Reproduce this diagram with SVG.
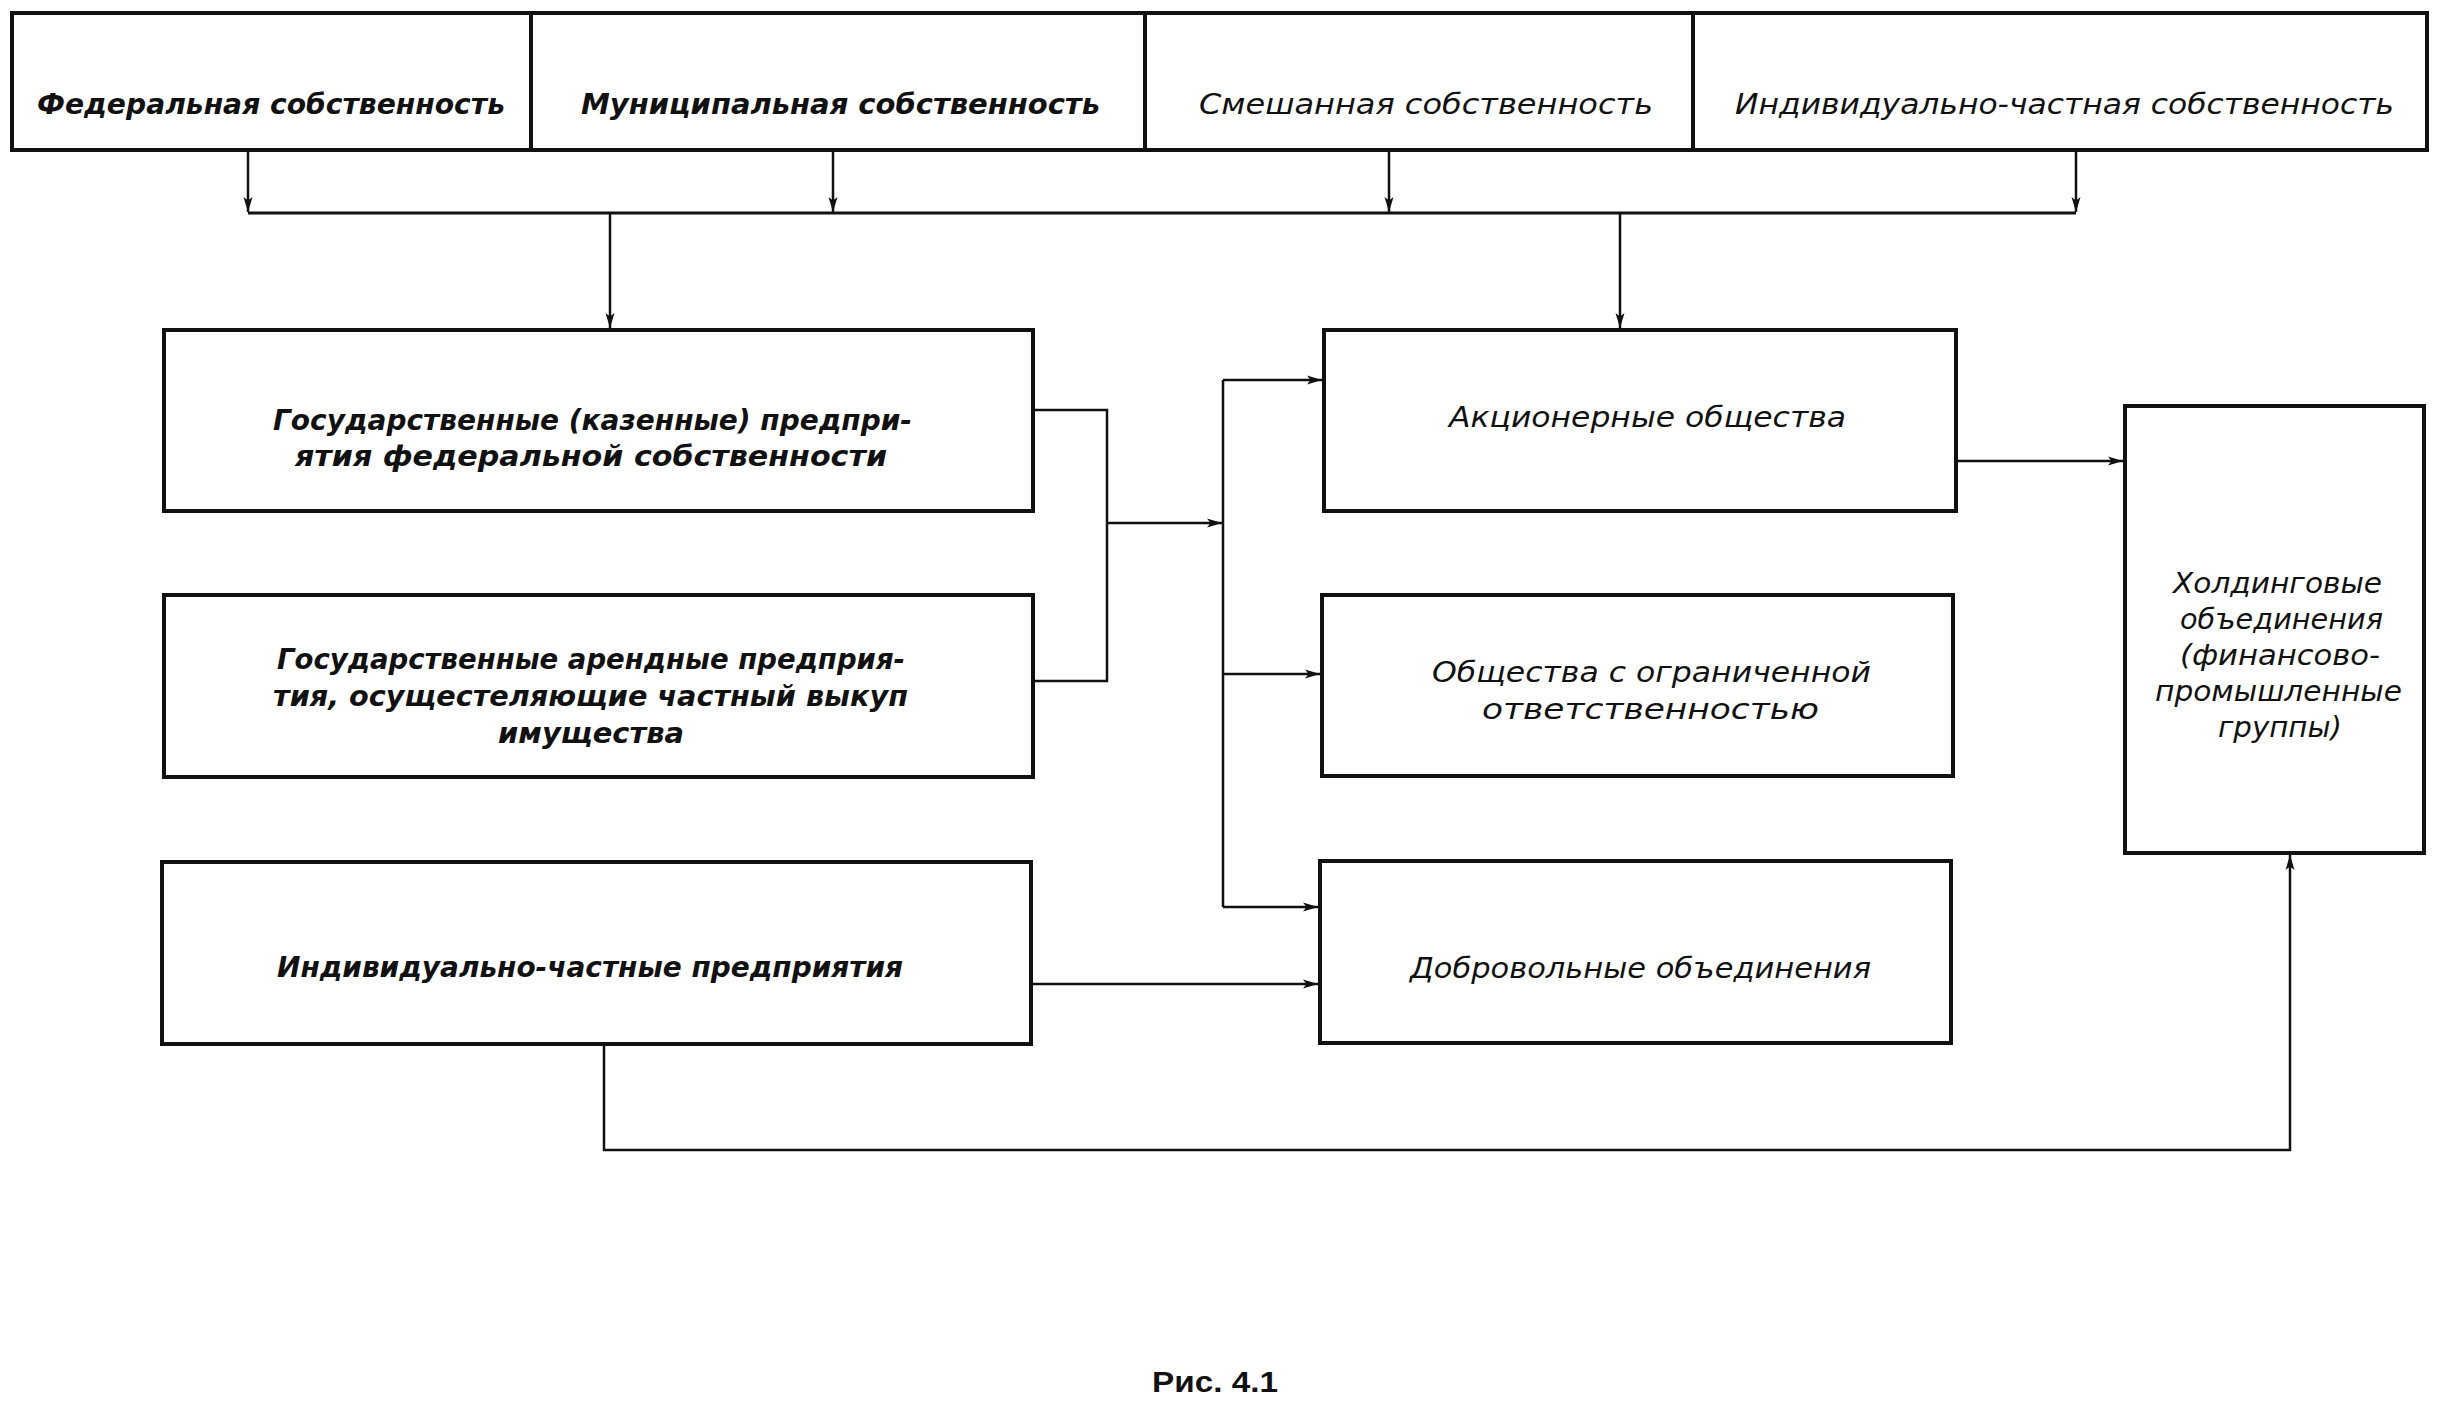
<svg xmlns="http://www.w3.org/2000/svg" width="2443" height="1419" viewBox="0 0 2443 1419">
<style>
.box{fill:#fff;stroke:#111;stroke-width:4}
.c{fill:none;stroke:#111;stroke-width:2.5}
.t{font-family:"DejaVu Sans","Liberation Sans",sans-serif;font-style:oblique;font-size:29px;fill:#111}
.b{font-weight:bold}
.cap{font-family:"Liberation Sans",Arial,sans-serif;font-weight:bold;font-size:29px;fill:#111}
</style>
<defs>
<marker id="ar" markerUnits="userSpaceOnUse" markerWidth="16" markerHeight="10" refX="15" refY="5" orient="auto">
<path d="M0,0.5 L15,5 L0,9.5 L3.5,5 z" fill="#111"/>
</marker>
</defs>
<rect width="2443" height="1419" fill="#fff"/>
<g id="connectors">
<path class="c" d="M248 150 V212" marker-end="url(#ar)"/>
<path class="c" d="M833 150 V212" marker-end="url(#ar)"/>
<path class="c" d="M1389 150 V212" marker-end="url(#ar)"/>
<path class="c" d="M2076 150 V212" marker-end="url(#ar)"/>
<path class="c" d="M248 213 H2076" style="stroke-width:3"/>
<path class="c" d="M610 213 V328" marker-end="url(#ar)"/>
<path class="c" d="M1620 213 V328" marker-end="url(#ar)"/>
<path class="c" d="M1033 410 H1107 V681 H1033"/>
<path class="c" d="M1107 523 H1222" marker-end="url(#ar)"/>
<path class="c" d="M1223 380 V907"/>
<path class="c" d="M1223 380 H1322" marker-end="url(#ar)"/>
<path class="c" d="M1223 674 H1320" marker-end="url(#ar)"/>
<path class="c" d="M1223 907 H1318" marker-end="url(#ar)"/>
<path class="c" d="M1031 984 H1318" marker-end="url(#ar)"/>
<path class="c" d="M1956 461 H2123" marker-end="url(#ar)"/>
<path class="c" d="M604 1044 V1150 H2290 V855" marker-end="url(#ar)"/>
</g>
<g id="federal">
<rect class="box" x="12" y="13" width="519" height="137"/>
<text class="t b" x="37" y="114" textLength="468" lengthAdjust="spacingAndGlyphs">Федеральная собственность</text>
</g>
<g id="municipal">
<rect class="box" x="531" y="13" width="614" height="137"/>
<text class="t b" x="581" y="114" textLength="519" lengthAdjust="spacingAndGlyphs">Муниципальная собственность</text>
</g>
<g id="mixed">
<rect class="box" x="1145" y="13" width="548" height="137"/>
<text class="t" x="1199" y="114" textLength="454" lengthAdjust="spacingAndGlyphs">Смешанная собственность</text>
</g>
<g id="individual">
<rect class="box" x="1693" y="13" width="734" height="137"/>
<text class="t" x="1735" y="114" textLength="659" lengthAdjust="spacingAndGlyphs">Индивидуально-частная собственность</text>
</g>
<g id="state-treasury">
<rect class="box" x="164" y="330" width="869" height="181"/>
<text class="t b" x="273" y="430" textLength="639" lengthAdjust="spacingAndGlyphs">Государственные (казенные) предпри-</text>
<text class="t b" x="295" y="466" textLength="592" lengthAdjust="spacingAndGlyphs">ятия федеральной собственности</text>
</g>
<g id="state-lease">
<rect class="box" x="164" y="595" width="869" height="182"/>
<text class="t b" x="277" y="669" textLength="628" lengthAdjust="spacingAndGlyphs">Государственные арендные предприя-</text>
<text class="t b" x="273" y="706" textLength="635" lengthAdjust="spacingAndGlyphs">тия, осущестеляющие частный выкуп</text>
<text class="t b" x="498" y="743" textLength="186" lengthAdjust="spacingAndGlyphs">имущества</text>
</g>
<g id="private-enterprises">
<rect class="box" x="162" y="862" width="869" height="182"/>
<text class="t b" x="277" y="977" textLength="626" lengthAdjust="spacingAndGlyphs">Индивидуально-частные предприятия</text>
</g>
<g id="joint-stock">
<rect class="box" x="1324" y="330" width="632" height="181"/>
<text class="t" x="1449" y="427" textLength="397" lengthAdjust="spacingAndGlyphs">Акционерные общества</text>
</g>
<g id="llc">
<rect class="box" x="1322" y="595" width="631" height="181"/>
<text class="t" x="1432" y="682" textLength="439" lengthAdjust="spacingAndGlyphs">Общества с ограниченной</text>
<text class="t" x="1482" y="719" textLength="337" lengthAdjust="spacingAndGlyphs">ответственностью</text>
</g>
<g id="voluntary">
<rect class="box" x="1320" y="861" width="631" height="182"/>
<text class="t" x="1410" y="978" textLength="461" lengthAdjust="spacingAndGlyphs">Добровольные объединения</text>
</g>
<g id="holding">
<rect class="box" x="2125" y="406" width="299" height="447"/>
<text class="t" x="2173" y="593" textLength="209" lengthAdjust="spacingAndGlyphs">Холдинговые</text>
<text class="t" x="2180" y="629" textLength="203" lengthAdjust="spacingAndGlyphs">объединения</text>
<text class="t" x="2180" y="665" textLength="200" lengthAdjust="spacingAndGlyphs">(финансово-</text>
<text class="t" x="2155" y="701" textLength="247" lengthAdjust="spacingAndGlyphs">промышленные</text>
<text class="t" x="2218" y="737" textLength="124" lengthAdjust="spacingAndGlyphs">группы)</text>
</g>
<text class="cap" x="1152" y="1392" textLength="126" lengthAdjust="spacingAndGlyphs">Рис. 4.1</text>
</svg>
